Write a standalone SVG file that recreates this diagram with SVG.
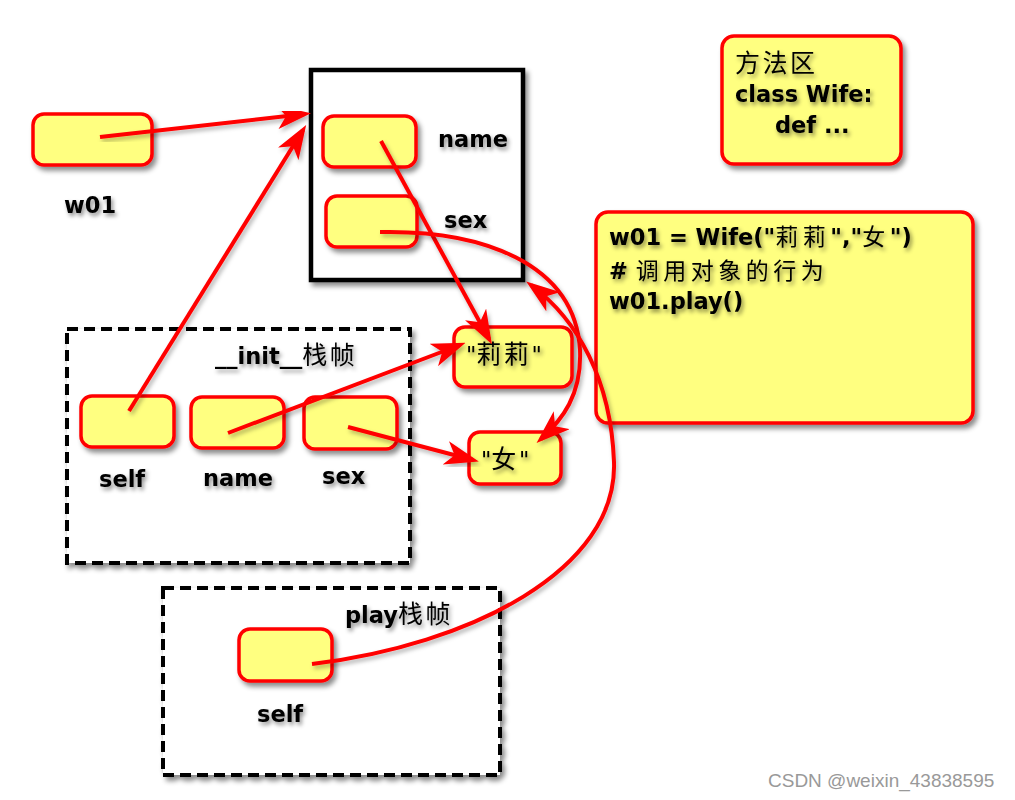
<svg xmlns="http://www.w3.org/2000/svg" width="1015" height="800" viewBox="0 0 1015 800">
<defs>
<filter id="sh" x="-20%" y="-20%" width="150%" height="150%"><feDropShadow dx="3" dy="4" stdDeviation="2.5" flood-color="#000" flood-opacity="0.45"/></filter>
<filter id="tsh" x="-20%" y="-30%" width="150%" height="170%"><feDropShadow dx="2" dy="3" stdDeviation="2" flood-color="#000" flood-opacity="0.45"/></filter>
<filter id="lsh" x="-10%" y="-10%" width="130%" height="130%"><feDropShadow dx="2" dy="3" stdDeviation="2" flood-color="#000" flood-opacity="0.3"/></filter>
<marker id="ah" markerUnits="userSpaceOnUse" markerWidth="34" markerHeight="24" viewBox="0 0 34 24" refX="28" refY="12" orient="auto"><path d="M0,0 L34,12 L0,24 L9,12 Z" fill="#ff0000"/></marker>
</defs>
<style>
.slot{fill:#ffff80;stroke:#ff0000;stroke-width:3.5;filter:url(#sh)}
.box{fill:#ffff80;stroke:#ff0000;stroke-width:3.5;filter:url(#sh)}
.obj{fill:#ffffff;stroke:#000;stroke-width:4.5;filter:url(#sh)}
.frame{fill:#ffffff;stroke:#000;stroke-width:4;stroke-dasharray:11 6;filter:url(#sh)}
.t{font-family:"DejaVu Sans","Noto Sans CJK SC",sans-serif;font-weight:bold;font-size:22.5px;fill:#000;filter:url(#tsh)}
.c{font-family:"Noto Sans CJK SC",sans-serif;font-weight:normal;font-size:25px;letter-spacing:2.5px}
.cc{font-family:"Noto Sans CJK SC",sans-serif;font-weight:normal;font-size:23px;letter-spacing:4.5px}
.q{font-family:"DejaVu Sans",sans-serif;font-weight:normal}
.conn path{fill:none;stroke:#ff0000;stroke-width:4;marker-end:url(#ah);filter:url(#lsh)}
.wm{font-family:"Liberation Sans",sans-serif;font-size:19px;fill:#999}
</style>
<rect width="1015" height="800" fill="#ffffff"/>

<g id="frame-init">
<rect class="frame" x="67" y="329" width="343" height="234"/>
<text class="t" x="215" y="364">__init__<tspan class="c">栈帧</tspan></text>
</g>
<g id="frame-play">
<rect class="frame" x="163" y="588" width="337" height="187"/>
<text class="t" x="345" y="623">play<tspan class="c">栈帧</tspan></text>
</g>
<g id="object">
<rect class="obj" x="311" y="70" width="212" height="210"/>
</g>
<g id="obj-name">
<rect class="slot" x="323" y="116" width="93" height="51" rx="11"/>
<text class="t" x="438" y="147">name</text>
</g>
<g id="obj-sex">
<rect class="slot" x="326" y="196" width="91" height="51" rx="11"/>
<text class="t" x="444" y="228">sex</text>
</g>
<g id="w01">
<rect class="slot" x="33" y="114" width="119" height="51" rx="11"/>
<text class="t" x="64" y="213">w01</text>
</g>
<g id="method-area">
<rect class="box" x="722" y="36" width="179" height="128" rx="12"/>
<text class="t" x="735" y="72"><tspan class="c">方法区</tspan></text>
<text class="t" x="735" y="102">class Wife:</text>
<text class="t" x="775" y="133">def ...</text>
</g>
<g id="code">
<rect class="box" x="596" y="212" width="377" height="211" rx="12"/>
<text class="t" x="609" y="245">w01 = Wife("<tspan class="cc">莉莉</tspan>","<tspan class="cc">女</tspan>")</text>
<text class="t" x="609" y="279"># <tspan class="cc">调用对象的行为</tspan></text>
<text class="t" x="609" y="309">w01.play()</text>
</g>
<g id="init-self">
<rect class="slot" x="81" y="396" width="93" height="51" rx="11"/>
<text class="t" x="99" y="487">self</text>
</g>
<g id="init-name">
<rect class="slot" x="191" y="397" width="93" height="51" rx="11"/>
<text class="t" x="203" y="486">name</text>
</g>
<g id="init-sex">
<rect class="slot" x="304" y="397" width="93" height="52" rx="11"/>
<text class="t" x="322" y="484">sex</text>
</g>
<g id="str-lili">
<rect class="slot" x="454" y="327" width="118" height="60" rx="11"/>
<text class="t" x="466" y="363"><tspan class="q">"</tspan><tspan class="c">莉莉</tspan><tspan class="q">"</tspan></text>
</g>
<g id="str-nv">
<rect class="slot" x="469" y="432" width="92" height="52" rx="11"/>
<text class="t" x="481" y="468"><tspan class="q">"</tspan><tspan class="c">女</tspan><tspan class="q">"</tspan></text>
</g>
<g id="play-self">
<rect class="slot" x="239" y="629" width="93" height="52" rx="11"/>
<text class="t" x="257" y="722">self</text>
</g>

<g id="connectors" class="conn">
<path d="M100,137 L305,114"/>
<path d="M129,411 L303,130"/>
<path d="M381,141 L489,339"/>
<path d="M228,433 L460,345"/>
<path d="M348,427 L473,460"/>
<path d="M380,232 C480,230 575,262 580,350 C582,395 562,420 541,439"/>
<path d="M312,664 C470,645 618,570 614,462 C611,380 578,320 531,285"/>
</g>

<text class="wm" x="768" y="787">CSDN @weixin_43838595</text>
</svg>
